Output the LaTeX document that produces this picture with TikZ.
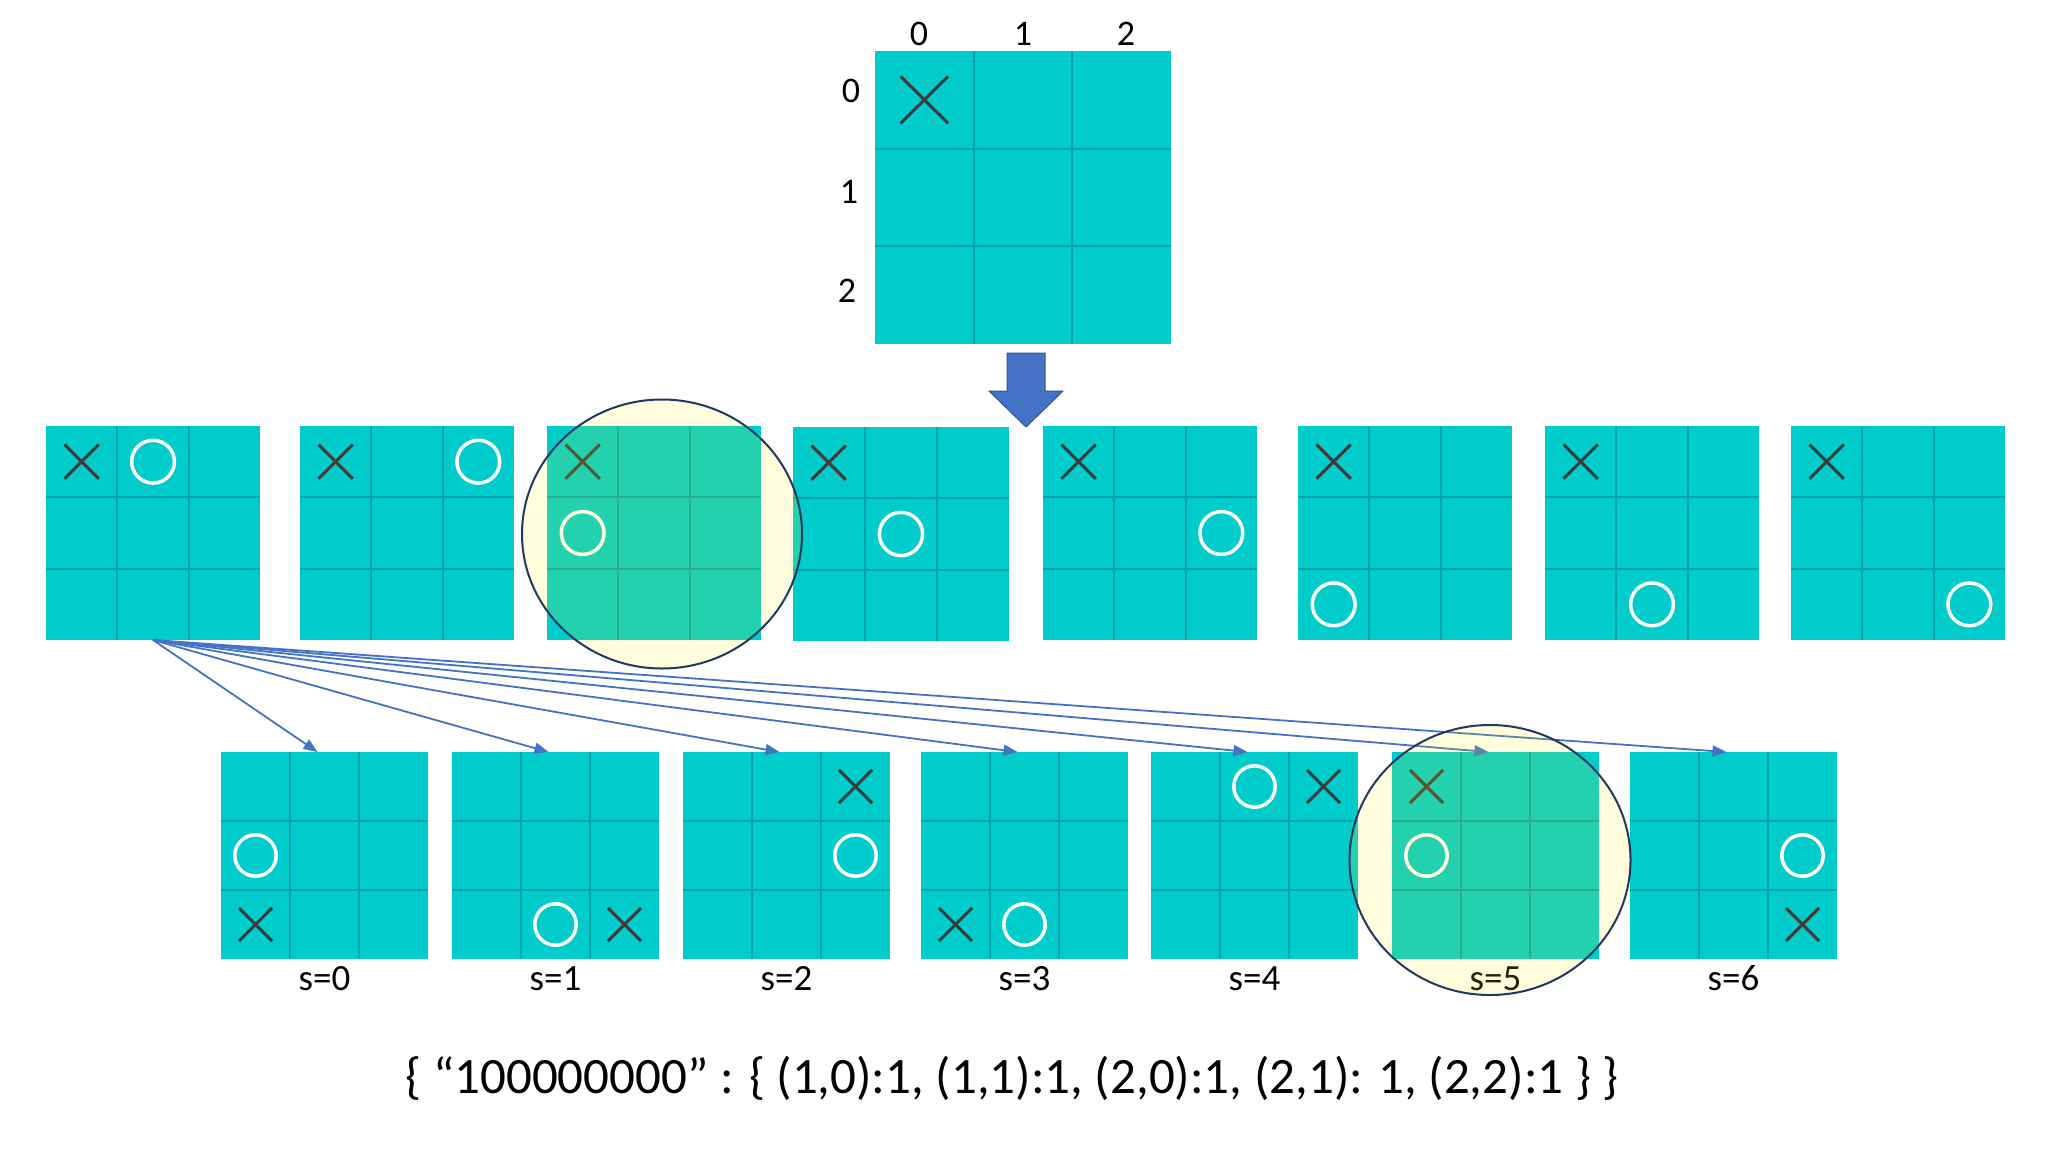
\documentclass[tikz,border=0pt]{standalone}
\usepackage{fontspec}
\setmainfont{Carlito}
\usetikzlibrary{calc,arrows.meta,shapes.geometric}
\definecolor{teal1}{HTML}{00CCCC}
\definecolor{gridc}{HTML}{00A3AB}
\definecolor{xcol}{HTML}{3C3C3C}
\definecolor{arrblue}{HTML}{4472C4}
\definecolor{arredge}{HTML}{2F5597}
\definecolor{navy}{HTML}{203864}
\tikzset{
  board/.style={fill=teal1, draw=none, inner sep=0pt, outer sep=0pt, anchor=north west},
  gridline/.style={draw=gridc, line width=1.8pt},
  xmark/.style={draw=xcol, line width=3pt},
  omark/.style={draw=white, line width=3.5pt},
  hl/.style={ellipse, draw=navy, line width=2pt, fill=yellow, fill opacity=0.14, inner sep=0pt},
  lab/.style={font=\fontsize{36}{40}\selectfont, inner sep=0pt, anchor=base},
  slab/.style={font=\fontsize{37}{40}\selectfont, inner sep=0pt, anchor=base},
  link/.style={draw=arrblue, line width=1.8pt, -{Triangle[length=14pt,width=11pt]}},
}
\newcommand\tttb[5]{%
  \node[board, minimum width=#4pt, minimum height=#5pt] (#1) at (#2,#3) {};
  \foreach \k in {1,2}{
    \draw[gridline] ($(#1.north west)+({\k*#4/3},0)$) -- ($(#1.south west)+({\k*#4/3},0)$);
    \draw[gridline] ($(#1.north west)+(0,{\k*#5/3})$) -- ($(#1.north east)+(0,{\k*#5/3})$);
  }%
}
\newcommand\tX[5]{%
  \draw[xmark] ($(#1.north west)+({(#5+0.26)*#2/3},{(#4+0.26)*#3/3})$) -- ($(#1.north west)+({(#5+0.74)*#2/3},{(#4+0.74)*#3/3})$)
    ($(#1.north west)+({(#5+0.74)*#2/3},{(#4+0.26)*#3/3})$) -- ($(#1.north west)+({(#5+0.26)*#2/3},{(#4+0.74)*#3/3})$);%
}
\newcommand\tO[5]{%
  \draw[omark] ($(#1.north west)+({(#5+0.5)*#2/3},{(#4+0.5)*#3/3})$) circle[radius={0.3*#2/3}];%
}
\begin{document}
\begin{tikzpicture}[x=1pt,y=-1pt]
\fill[white] (0,0) rectangle (2048,1152);
\useasboundingbox (0,0) rectangle (2048,1152);
% top board
\tttb{top}{875}{51}{296}{293}
\tX{top}{296}{293}{0}{0}
\node[lab] (c0) at (919,45) {0};
\node[lab] (c1) at (1023,45) {1};
\node[lab] (c2) at (1126,45) {2};
\node[lab] (r0) at (851,102) {0};
\node[lab] (r1) at (849,203) {1};
\node[lab] (r2) at (847,302) {2};
% block arrow
\filldraw[fill=arrblue, draw=arredge, line width=1pt]
  (1007,353) -- (1045,353) -- (1045,391) -- (1063,391) -- (1026,427) -- (989,391) -- (1007,391) -- cycle;
% middle row
\tttb{m1}{46}{426}{214}{214}
\tttb{m2}{300}{426}{214}{214}
\tttb{m3}{547}{426}{214}{214}
\tttb{m4}{793}{427}{216}{214}
\tttb{m5}{1043}{426}{214}{214}
\tttb{m6}{1298}{426}{214}{214}
\tttb{m7}{1545}{426}{214}{214}
\tttb{m8}{1791}{426}{214}{214}
\foreach \b in {m1,m2,m3,m4,m5,m6,m7,m8}{\tX{\b}{214}{214}{0}{0}}
\tO{m1}{214}{214}{0}{1}
\tO{m2}{214}{214}{0}{2}
\tO{m3}{214}{214}{1}{0}
\tO{m4}{216}{214}{1}{1}
\tO{m5}{214}{214}{1}{2}
\tO{m6}{214}{214}{2}{0}
\tO{m7}{214}{214}{2}{1}
\tO{m8}{214}{214}{2}{2}
% bottom row
\tttb{s0}{221}{752}{207}{207}
\tttb{s1}{452}{752}{207}{207}
\tttb{s2}{683}{752}{207}{207}
\tttb{s3}{921}{752}{207}{207}
\tttb{s4}{1151}{752}{207}{207}
\tttb{s5}{1392}{752}{207}{207}
\tttb{s6}{1630}{752}{207}{207}
\tO{s0}{207}{207}{1}{0} \tX{s0}{207}{207}{2}{0}
\tO{s1}{207}{207}{2}{1} \tX{s1}{207}{207}{2}{2}
\tX{s2}{207}{207}{0}{2} \tO{s2}{207}{207}{1}{2}
\tX{s3}{207}{207}{2}{0} \tO{s3}{207}{207}{2}{1}
\tO{s4}{207}{207}{0}{1} \tX{s4}{207}{207}{0}{2}
\tX{s5}{207}{207}{0}{0} \tO{s5}{207}{207}{1}{0}
\tO{s6}{207}{207}{1}{2} \tX{s6}{207}{207}{2}{2}
\foreach \i in {0,...,6}{
  \node[slab] (l\i) at ([yshift=-31pt]s\i.south) {s=\i};
  \draw[link] (m1.south) -- ([xshift=-7pt]s\i.north);
}
% highlights
\node[hl, minimum width=280pt, minimum height=269pt] (h1) at (662,534) {};
\node[hl, minimum width=281pt, minimum height=270pt] (h2) at (1490,860) {};
% formula
\node[font=\fontsize{51}{56}\selectfont, inner sep=0pt, anchor=base] (dict) at (1012,1093)
  {\{ “100000000” : \{ (1,0):1, (1,1):1, (2,0):1, (2,1): 1, (2,2):1 \} \}};
\end{tikzpicture}
\end{document}
